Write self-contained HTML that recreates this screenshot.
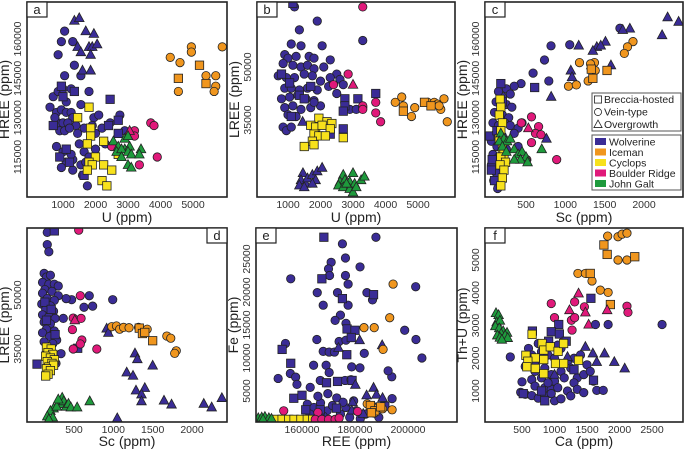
<!DOCTYPE html>
<html><head><meta charset="utf-8">
<style>
html,body{margin:0;padding:0;background:#fff;}
svg{display:block;font-family:"Liberation Sans",sans-serif;}
</style></head>
<body>
<svg id="fig" width="685" height="451" viewBox="0 0 685 451"></svg>
<script>
// ---------- DATA (value-space) : [x, y, group, shape] ----------
const groupsList = ["W","I","C","B","G"];
const groupNames = ["Wolverine","Iceman","Cyclops","Boulder Ridge","John Galt"];
const groupColors = ["#3a2c96","#f0961e","#f7e11c","#e0197a","#1e9a3c"];

const ptsA = [
[1050,163000,"W","o"],[950,159000,"W","o"],[1300,159000,"W","o"],[850,154000,"W","o"],[1350,150000,"W","o"],[1050,146000,"W","o"],[700,138000,"W","o"],[850,140000,"W","o"],[1000,141000,"W","o"],[1250,141000,"W","o"],[1550,146000,"W","o"],[1800,140000,"W","o"],[600,134000,"W","o"],[800,132000,"W","o"],[950,133000,"W","o"],[1100,132000,"W","o"],[1250,132000,"W","o"],[1550,135000,"W","o"],[1300,130000,"W","o"],[850,128000,"W","o"],[1000,128000,"W","o"],[1150,128000,"W","o"],[1400,127000,"W","o"],[1650,126000,"W","o"],[900,125000,"W","o"],[1050,125000,"W","o"],[1200,126000,"W","o"],[1950,130000,"W","o"],[2100,131000,"W","o"],[2200,126000,"W","o"],[2000,124000,"W","o"],[2450,128000,"W","o"],[2750,131000,"W","o"],[2900,125000,"W","o"],[800,119000,"W","o"],[1000,117000,"W","o"],[1500,120000,"W","o"],[1650,117000,"W","o"],[1800,115000,"W","o"],[2000,118000,"W","o"],[2300,120000,"W","o"],[1100,113000,"W","o"],[1300,114000,"W","o"],[1550,112000,"W","o"],[1700,113000,"W","o"],[1300,110000,"W","o"],[1600,108000,"W","o"],[1750,104000,"W","o"],[950,111000,"W","o"],[1250,116000,"W","o"],[750,130000,"W","o"],[1100,136000,"W","o"],[1450,124000,"W","o"],[1900,127000,"W","o"],
[700,127000,"W","s"],[950,142000,"W","s"],[1000,138000,"W","s"],[1350,140000,"W","s"],[2450,137000,"W","s"],[2700,129000,"W","s"],[2700,124000,"W","s"],[2400,127000,"W","s"],[900,115000,"W","s"],[1200,113000,"W","s"],[1650,108000,"W","s"],[1100,118000,"W","s"],
[1350,167000,"W","t"],[1500,168000,"W","t"],[1700,163000,"W","t"],[1950,162000,"W","t"],[1450,157000,"W","t"],[1800,157000,"W","t"],[1900,157000,"W","t"],[2050,158000,"W","t"],[1550,155000,"W","t"],[1850,154000,"W","t"],[1600,148000,"W","t"],[1850,148000,"W","t"],
[4300,153000,"I","o"],[4600,151000,"I","o"],[4950,157000,"I","o"],[4950,155000,"I","o"],[5400,146000,"I","o"],[5700,146000,"I","o"],[5700,142000,"I","o"],[5650,140000,"I","o"],[4550,140000,"I","o"],[5900,157000,"I","o"],
[4550,145000,"I","s"],[5200,150000,"I","s"],[5400,143000,"I","s"],
[1800,134000,"C","s"],[1450,130000,"C","s"],[1850,126000,"C","s"],[1850,123000,"C","s"],[1750,120000,"C","s"],[2250,121000,"C","s"],[2000,115000,"C","s"],[1800,113000,"C","s"],[1900,112000,"C","s"],[1750,110000,"C","s"],[2250,112000,"C","s"],[2500,110000,"C","s"],[2200,106000,"C","s"],[2350,104000,"C","s"],[2700,116000,"C","s"],
[3700,128000,"B","o"],[3800,127000,"B","o"],[3200,125000,"B","o"],[3200,123000,"B","o"],[2500,119000,"B","o"],[3350,112000,"B","o"],[3900,115000,"B","o"],[3050,125000,"B","t"],
[2550,121000,"G","t"],[2700,119000,"G","t"],[2900,118000,"G","t"],[3050,119000,"G","t"],[2650,117000,"G","t"],[2800,118000,"G","t"],[3000,117000,"G","t"],[3100,116000,"G","t"],[3400,118000,"G","t"],[2800,115000,"G","t"],[3350,116000,"G","t"],[3000,112000,"G","t"],[3100,111000,"G","t"],[2900,122000,"G","t"],[3000,123000,"G","t"]
];

const ptsB = [
[1200,67000,"W","o"],[1900,63000,"W","o"],[1350,60500,"W","o"],[3300,57500,"W","o"],[1100,56500,"W","o"],[1400,56000,"W","o"],[2050,56000,"W","o"],[900,53500,"W","o"],[1000,52500,"W","o"],[1250,53000,"W","o"],[1650,53000,"W","o"],[1800,52500,"W","o"],[2300,52000,"W","o"],[850,51000,"W","o"],[1150,50500,"W","o"],[1400,50000,"W","o"],[1600,50500,"W","o"],[1800,49500,"W","o"],[2100,50000,"W","o"],[2500,48000,"W","o"],[700,47500,"W","o"],[950,47000,"W","o"],[1200,47000,"W","o"],[1500,48000,"W","o"],[1750,47500,"W","o"],[2000,46000,"W","o"],[2300,47000,"W","o"],[2600,46500,"W","o"],[2700,45000,"W","o"],[2250,44500,"W","o"],[900,44000,"W","o"],[1100,44000,"W","o"],[1350,43500,"W","o"],[1600,44000,"W","o"],[1900,43500,"W","o"],[2500,42500,"W","o"],[800,41000,"W","o"],[1050,41500,"W","o"],[1300,42000,"W","o"],[1550,41000,"W","o"],[1800,40500,"W","o"],[900,38500,"W","o"],[1150,39000,"W","o"],[1400,38000,"W","o"],[1700,38500,"W","o"],[1000,36500,"W","o"],[1250,36000,"W","o"],[2000,39000,"W","o"],[2900,38000,"W","o"],[3100,38000,"W","o"],[3300,38500,"W","o"],[850,33000,"W","o"],[950,32000,"W","o"],[1100,33000,"W","o"],[1800,40000,"W","o"],
[1150,68000,"W","s"],[800,48000,"W","s"],[1050,45500,"W","s"],[1350,42000,"W","s"],[1500,41000,"W","s"],[2750,41000,"W","s"],[3150,41000,"W","s"],[2750,39000,"W","s"],[3700,42500,"W","s"],[2700,37500,"W","s"],[1100,36000,"W","s"],[2700,32500,"W","s"],[2300,31000,"W","s"],[1700,44500,"W","s"],
[1450,34500,"W","t"],[1460,20000,"W","t"],[1400,18000,"W","t"],[1550,17000,"W","t"],[1600,18500,"W","t"],[1750,19500,"W","t"],[1900,20500,"W","t"],[2050,21500,"W","t"],[1850,18000,"W","t"],[1350,16500,"W","t"],[1500,16000,"W","t"],[1750,17000,"W","t"],
[2700,19500,"G","t"],[3000,20000,"G","t"],[2600,17500,"G","t"],[2750,18000,"G","t"],[2900,17500,"G","t"],[3050,17000,"G","t"],[3250,18000,"G","t"],[3350,19000,"G","t"],[2550,16500,"G","t"],[2700,16000,"G","t"],[2900,15500,"G","t"],[3000,14500,"G","t"],[3100,16000,"G","t"],[2800,17000,"G","t"],
[1950,35500,"C","s"],[2200,34500,"C","s"],[2350,34000,"C","s"],[1700,33500,"C","s"],[1850,33000,"C","s"],[2050,33500,"C","s"],[2300,32500,"C","s"],[1800,31000,"C","s"],[1950,30500,"C","s"],[2150,30500,"C","s"],[1750,29000,"C","s"],[2700,30000,"C","s"],[1500,27500,"C","s"],[1800,28000,"C","s"],
[3300,67000,"B","o"],[2850,48000,"B","o"],[2400,45000,"B","o"],[3700,40000,"B","o"],[3300,39000,"B","o"],[3300,38000,"B","o"],[3700,37000,"B","o"],[3850,34500,"B","o"],[3000,45000,"B","t"],
[4500,41500,"I","o"],[4300,40000,"I","o"],[4550,39000,"I","o"],[4900,38500,"I","o"],[4800,36000,"I","o"],[5300,40000,"I","o"],[5500,40000,"I","o"],[5600,39500,"I","o"],[5700,38000,"I","o"],[5800,41000,"I","o"],[5900,34500,"I","o"],[5650,39000,"I","o"],
[5200,40000,"I","s"],[4550,37500,"I","s"],[5400,39000,"I","s"]
];

const ptsC = [
[1694,164100,"W","o"],[818,157400,"W","o"],[1056,157800,"W","o"],[735,152000,"W","o"],[590,147000,"W","o"],[790,144000,"W","o"],[437,143000,"W","o"],[350,142000,"W","o"],[250,141000,"W","o"],[300,139000,"W","o"],[200,138000,"W","o"],[150,140000,"W","o"],[120,136000,"W","o"],[250,135000,"W","o"],[320,134000,"W","o"],[100,132000,"W","o"],[200,131000,"W","o"],[280,130000,"W","o"],[80,128000,"W","o"],[150,127000,"W","o"],[230,128000,"W","o"],[300,127000,"W","o"],[120,124000,"W","o"],[200,123000,"W","o"],[60,121000,"W","o"],[130,119000,"W","o"],[80,116000,"W","o"],[150,115000,"W","o"],[60,112000,"W","o"],[120,109000,"W","o"],[90,106000,"W","o"],[140,103000,"W","o"],[400,126000,"W","o"],[450,128000,"W","o"],[400,119000,"W","o"],[350,124000,"W","o"],[250,118000,"W","o"],[180,113000,"W","o"],
[610,141500,"W","s"],[180,143000,"W","s"],[40,123000,"W","s"],[60,110000,"W","s"],[100,106000,"W","s"],[200,136000,"W","s"],[130,125000,"W","s"],[70,114000,"W","s"],
[2300,168300,"W","t"],[2440,166600,"W","t"],[2230,161500,"W","t"],[1820,164000,"W","t"],[1730,163500,"W","t"],[1170,157500,"W","t"],[1510,159000,"W","t"],[1400,157000,"W","t"],[1350,155500,"W","t"],[1450,157500,"W","t"],[1580,150000,"W","t"],[1330,150000,"W","t"],[1070,148000,"W","t"],[1085,145500,"W","t"],[820,138000,"W","t"],[760,122000,"W","t"],
[1860,159000,"I","o"],[1790,157000,"I","o"],[1750,154500,"I","o"],[1180,151000,"I","o"],[1370,151000,"I","o"],[1320,150500,"I","o"],[1380,148000,"I","o"],[1290,144000,"I","o"],[1040,142000,"I","o"],[1140,142500,"I","o"],
[1330,148500,"I","s"],[1350,145000,"I","s"],[1530,148000,"I","s"],
[170,137000,"C","s"],[180,134000,"C","s"],[160,131000,"C","s"],[200,128000,"C","s"],[180,125000,"C","s"],[160,122000,"C","s"],[200,118000,"C","s"],[220,116000,"C","s"],[180,115000,"C","s"],[240,113000,"C","s"],[170,112000,"C","s"],[220,110000,"C","s"],[200,107000,"C","s"],[180,104000,"C","s"],
[570,130300,"B","o"],[440,128000,"B","o"],[660,126600,"B","o"],[620,124000,"B","o"],[690,123500,"B","o"],[570,120500,"B","o"],[510,114000,"B","o"],[890,114000,"B","o"],[530,126000,"B","t"],
[180,124000,"G","t"],[220,122000,"G","t"],[160,121000,"G","t"],[260,121000,"G","t"],[300,122000,"G","t"],[200,119000,"G","t"],[350,118000,"G","t"],[400,116000,"G","t"],[450,117000,"G","t"],[500,115000,"G","t"],[430,114000,"G","t"],[350,114000,"G","t"],[520,113000,"G","t"],[700,118000,"G","t"],[250,117000,"G","t"]
];

const ptsD = [
[160,67400,"W","o"],[160,64000,"W","o"],[180,62000,"W","o"],[120,56000,"W","o"],[150,55000,"W","o"],[200,55500,"W","o"],[100,53500,"W","o"],[180,53000,"W","o"],[250,53000,"W","o"],[300,52500,"W","o"],[130,51500,"W","o"],[220,51000,"W","o"],[300,49800,"W","o"],[100,50500,"W","o"],[160,49000,"W","o"],[250,48500,"W","o"],[90,47500,"W","o"],[200,47000,"W","o"],[140,46000,"W","o"],[240,45500,"W","o"],[100,44500,"W","o"],[180,44000,"W","o"],[260,43500,"W","o"],[120,42500,"W","o"],[200,42000,"W","o"],[150,40500,"W","o"],[250,40000,"W","o"],[100,39500,"W","o"],[190,38500,"W","o"],[280,37500,"W","o"],[120,37000,"W","o"],[230,36500,"W","o"],[694,49800,"W","o"],[992,48700,"W","o"],[470,48700,"W","o"],[627,46600,"W","o"],[737,46900,"W","o"],[364,43500,"W","o"],[335,33700,"W","o"],[271,31000,"W","o"],[400,49000,"W","o"],
[250,67800,"W","s"],[547,35200,"W","s"],[30,30800,"W","s"],[130,48000,"W","s"],[210,46000,"W","s"],[150,43000,"W","s"],[260,39000,"W","s"],
[915,40700,"W","t"],[937,39500,"W","t"],[1275,33800,"W","t"],[1305,32200,"W","t"],[1500,30400,"W","t"],[1170,28500,"W","t"],[1250,27600,"W","t"],[1288,23500,"W","t"],[1400,24200,"W","t"],[1358,22400,"W","t"],[1358,20500,"W","t"],[1644,20700,"W","t"],[1740,19600,"W","t"],[2150,19800,"W","t"],[2250,18800,"W","t"],[2380,21400,"W","t"],[1050,15800,"W","t"],
[980,41200,"I","o"],[1040,41400,"I","o"],[1080,40500,"I","o"],[1130,41000,"I","o"],[1200,40900,"I","o"],[1320,41000,"I","o"],[1370,40000,"I","o"],[1430,40500,"I","o"],[1680,38600,"I","o"],[1730,38000,"I","o"],[1800,34500,"I","o"],[1780,33800,"I","o"],
[1330,40800,"I","s"],[1370,39300,"I","s"],[1500,37300,"I","s"],[1400,39600,"I","s"],
[560,68000,"B","o"],[580,49800,"B","o"],[590,43500,"B","o"],[490,43600,"B","o"],[480,40400,"B","o"],[600,37500,"B","o"],[580,36400,"B","o"],[490,35000,"B","o"],[790,35000,"B","o"],[510,43000,"B","t"],
[150,35500,"C","s"],[210,35000,"C","s"],[170,34000,"C","s"],[230,33500,"C","s"],[140,33000,"C","s"],[200,32500,"C","s"],[250,32000,"C","s"],[160,31500,"C","s"],[220,31000,"C","s"],[180,30000,"C","s"],[240,30500,"C","s"],[150,29500,"C","s"],[200,29000,"C","s"],[170,28000,"C","s"],[140,27500,"C","s"],
[350,21500,"G","t"],[330,19700,"G","t"],[370,20500,"G","t"],[400,19000,"G","t"],[430,19800,"G","t"],[460,18800,"G","t"],[540,18800,"G","t"],[700,20500,"G","t"],[240,18500,"G","t"],[200,17800,"G","t"],[230,16000,"G","t"],[160,16300,"G","t"],[180,15500,"G","t"],[280,19000,"G","t"],[300,21000,"G","t"]
];

const ptsE = [
[187900,28300,"W","o"],[175250,27300,"W","o"],[176400,25150,"W","o"],[171000,24500,"W","o"],[181900,23800,"W","o"],[170000,23500,"W","o"],[176400,22500,"W","o"],[170400,22500,"W","o"],[155750,22000,"W","o"],[177400,21200,"W","o"],[202900,20800,"W","o"],[165750,19900,"W","o"],[173400,19900,"W","o"],[184500,19900,"W","o"],[168000,18000,"W","o"],[177400,18000,"W","o"],[186600,18800,"W","o"],[174500,16500,"W","o"],[176600,15250,"W","o"],[172500,15700,"W","o"],[198750,14200,"W","o"],[203000,12800,"W","o"],[165600,12800,"W","o"],[174000,12500,"W","o"],[176600,12700,"W","o"],[205250,10000,"W","o"],[153750,12200,"W","o"],[168000,11000,"W","o"],[170250,10900,"W","o"],[172250,10900,"W","o"],[183500,10700,"W","o"],[164375,8900,"W","o"],[169100,8900,"W","o"],[178750,8650,"W","o"],[181875,8500,"W","o"],[155600,7650,"W","o"],[157600,7100,"W","o"],[151000,6900,"W","o"],[158100,6000,"W","o"],[170250,7800,"W","o"],[176250,6600,"W","o"],[178500,6700,"W","o"],[166900,6600,"W","o"],[163100,5550,"W","o"],[169750,4600,"W","o"],[173100,3950,"W","o"],[194000,3850,"W","o"],[193875,7150,"W","o"],[192500,8050,"W","o"],
[162000,3000,"W","o"],[164500,2500,"W","o"],[167000,3200,"W","o"],[169500,2000,"W","o"],[171500,2800,"W","o"],[174500,1500,"W","o"],[176500,2500,"W","o"],[178000,1000,"W","o"],[180500,2000,"W","o"],[182000,800,"W","o"],[184000,1500,"W","o"],[168000,1200,"W","o"],[163000,1500,"W","o"],[175500,3300,"W","o"],[189000,1000,"W","o"],[179500,3500,"W","o"],[166000,4200,"W","o"],
[168250,28300,"W","s"],[167500,22000,"W","s"],[175250,19000,"W","s"],[187000,19600,"W","s"],[177000,14400,"W","s"],[180000,14200,"W","s"],[178600,13100,"W","s"],[152500,11300,"W","s"],[155750,9200,"W","s"],[176900,10500,"W","s"],[156900,3900,"W","s"],[160000,4350,"W","s"],[169250,6250,"W","s"],[173400,6450,"W","s"],[178900,6600,"W","s"],[161400,2150,"W","s"],[166900,2150,"W","s"],[173000,2400,"W","s"],[186250,2550,"W","s"],[191250,2700,"W","s"],
[181750,12700,"W","t"],[173750,11550,"W","t"],[190250,11950,"W","t"],[180125,5950,"W","t"],[179100,3300,"W","t"],[187000,5500,"W","t"],[184375,4350,"W","t"],[188100,4450,"W","t"],[190400,3950,"W","t"],[178750,2050,"W","t"],[183100,1550,"W","t"],
[194375,21200,"I","o"],[193100,16100,"I","o"],[183400,14600,"I","o"],[187250,14600,"I","o"],[190600,11300,"I","o"],[194000,2150,"I","o"],[184600,3050,"I","o"],[188250,2400,"I","o"],[190400,2300,"I","o"],[187250,1650,"I","o"],
[185800,2800,"I","s"],[187500,2000,"I","s"],[189700,2600,"I","s"],[186200,1700,"I","s"],
[150600,700,"C","s"],[152500,700,"C","s"],[155000,700,"C","s"],[157000,700,"C","s"],[159600,700,"C","s"],[162000,700,"C","s"],[164000,700,"C","s"],[166800,700,"C","s"],
[153100,2000,"B","o"],[166000,1750,"B","o"],[181000,1900,"B","o"],[165000,700,"B","o"],[167500,700,"B","o"],[170000,700,"B","o"],[172500,700,"B","o"],[174000,900,"B","o"],
[143500,900,"G","t"],[144800,1000,"G","t"],[146000,1100,"G","t"],[147500,900,"G","t"],[145300,700,"G","t"],[148500,800,"G","t"]
];

const ptsF = [
[1818,5730,"I","o"],[1977,5710,"I","o"],[2040,5790,"I","o"],[2115,5820,"I","o"],[1977,5000,"I","o"],[2115,5000,"I","o"],[1360,4590,"I","o"],[1475,4590,"I","o"],[1577,4360,"I","o"],[1705,4080,"I","o"],[1825,4010,"I","o"],
[1760,5460,"I","s"],[1810,5170,"I","s"],[2235,5100,"I","s"],[1550,4590,"I","s"],[1860,3640,"I","s"],
[950,3670,"B","o"],[1310,3720,"B","o"],[1460,3570,"B","o"],[1000,3240,"B","o"],[1260,3160,"B","o"],[1310,3240,"B","o"],[1270,2860,"B","o"],[2115,3590,"B","o"],[2130,3400,"B","o"],[1140,2520,"B","o"],
[1370,3980,"B","t"],[1230,3470,"B","t"],[1475,3400,"B","t"],[1525,3030,"B","t"],[1810,3470,"B","t"],
[100,3380,"G","t"],[140,3320,"G","t"],[110,3100,"G","t"],[160,3150,"G","t"],[90,2980,"G","t"],[150,2920,"G","t"],[210,2830,"G","t"],[270,2780,"G","t"],[180,2750,"G","t"],[120,2700,"G","t"],[160,2630,"G","t"],[240,2700,"G","t"],[280,2620,"G","t"],[190,2570,"G","t"],
[1630,3030,"W","o"],[1825,3030,"W","o"],[2655,3030,"W","o"],[320,2040,"W","o"],[600,2300,"W","o"],[650,2100,"W","o"],[700,1900,"W","o"],[800,2200,"W","o"],[900,2100,"W","o"],[1000,2000,"W","o"],[1100,2300,"W","o"],[1200,1900,"W","o"],[1300,2000,"W","o"],[1400,2100,"W","o"],[1500,1800,"W","o"],[550,1750,"W","o"],[700,1600,"W","o"],[850,1700,"W","o"],[950,1500,"W","o"],[1100,1600,"W","o"],[1250,1700,"W","o"],[1350,1400,"W","o"],[1450,1500,"W","o"],[1550,1600,"W","o"],[650,1350,"W","o"],[800,1400,"W","o"],[1000,1300,"W","o"],[1150,1400,"W","o"],[1300,1250,"W","o"],[500,1280,"W","o"],[700,1150,"W","o"],[850,1100,"W","o"],[950,1050,"W","o"],[1050,1100,"W","o"],[1200,1000,"W","o"],[1350,1050,"W","o"],[1650,1020,"W","o"],[1750,1020,"W","o"],[1450,950,"W","o"],[480,960,"W","o"],[550,900,"W","o"],[650,860,"W","o"],[750,780,"W","o"],[850,850,"W","o"],[1000,700,"W","o"],[1100,760,"W","o"],[1250,850,"W","o"],[950,920,"W","o"],[900,1250,"W","o"],[1600,1300,"W","o"],[750,2450,"W","o"],[1050,2400,"W","o"],
[1560,3830,"W","s"],[1065,3030,"W","s"],[950,2810,"W","s"],[1075,2740,"W","s"],[660,2830,"W","s"],[910,2520,"W","s"],[1180,2520,"W","s"],[1600,1330,"W","s"],[850,700,"W","s"],[520,920,"W","s"],[1300,1650,"W","s"],[800,1000,"W","s"],
[1475,2350,"W","t"],[1590,2150,"W","t"],[1770,2150,"W","t"],[1920,1890,"W","t"],[2080,1690,"W","t"],[1650,1890,"W","t"],[1200,2040,"W","t"],[1000,1500,"W","t"],
[655,2730,"C","s"],[810,2450,"C","s"],[835,2250,"C","s"],[935,2350,"C","s"],[1055,2210,"C","s"],[1140,2450,"C","s"],[560,2090,"C","s"],[705,2010,"C","s"],[590,1910,"C","s"],[835,1960,"C","s"],[575,1740,"C","s"],[705,1690,"C","s"],[1015,1840,"C","s"],[1140,1840,"C","s"],[1370,1940,"C","s"],[835,1530,"C","s"]
];

const ticksAx = [1000,2000,3000,4000,5000];
const ticksAy = [115000,130000,145000,160000];
const ticksBy = [35000,50000];
const ticksCx = [500,1000,1500,2000];
const ticksDx = [500,1000,1500,2000];
const ticksEx = [160000,180000,200000];
const ticksEy = [5000,10000,15000,20000,25000];
const ticksFx = [500,1000,1500,2000,2500];
const ticksFy = [1000,2000,3000,4000,5000];

// ---------- RENDER ----------
const NS="http://www.w3.org/2000/svg";
const svg=document.getElementById('fig');
function mk(tag,attrs,parent){const e=document.createElementNS(NS,tag);for(const k in attrs)e.setAttribute(k,attrs[k]);(parent||svg).appendChild(e);return e;}
function lin(v0,p0,v1,p1){return v=>p0+(v-v0)*(p1-p0)/(v1-v0);}

const panels=[
 {id:"a",pts:ptsA,box:[27,2,227,197],xs:lin(1000,63,5000,193),ys:lin(160000,39,115000,157),xt:ticksAx,yt:ticksAy,xl:"U (ppm)",yl:"HREE (ppm)",lr:"left",tk:11,tl:25},
 {id:"b",pts:ptsB,box:[257,2,455,197],xs:lin(1000,288,5000,418),ys:lin(50000,67,35000,120),xt:ticksAx,yt:ticksBy,xl:"U (ppm)",yl:"LREE (ppm)",lr:"left",tk:11,tl:25},
 {id:"c",pts:ptsC,box:[485,2,683,197],xs:lin(500,526,2000,644),ys:lin(160000,39,115000,157),xt:ticksCx,yt:ticksAy,xl:"Sc (ppm)",yl:"HREE (ppm)",lr:"left",tk:11,tl:25},
 {id:"d",pts:ptsD,box:[27,228,227,422],xs:lin(500,74,2000,192),ys:lin(50000,295,35000,349),xt:ticksDx,yt:ticksBy,xl:"Sc (ppm)",yl:"LREE (ppm)",lr:"right",tk:11,tl:24},
 {id:"e",pts:ptsE,box:[256,228,457,422],xs:lin(160000,302,200000,408),ys:lin(25000,259,5000,391),xt:ticksEx,yt:ticksEy,xl:"REE (ppm)",yl:"Fe (ppm)",lr:"left",tk:11,tl:24},
 {id:"f",pts:ptsF,box:[485,228,683,422],xs:lin(500,522,2500,652),ys:lin(5000,260,1000,391),xt:ticksFx,yt:ticksFy,xl:"Ca (ppm)",yl:"Th+U (ppm)",lr:"left",tk:11,tl:24}
];

function marker(g,shape,x,y,color,sc){
  const k=sc||1;
  let e;
  if(shape==="o") e=mk('circle',{cx:x,cy:y,r:4.2*k,fill:color,stroke:"#222","stroke-width":0.8},g);
  else if(shape==="s") e=mk('rect',{x:x-4.2*k,y:y-4.2*k,width:8.4*k,height:8.4*k,fill:color,stroke:"#222","stroke-width":0.8},g);
  else e=mk('polygon',{points:`${x},${y-5.2*k} ${x+4.8*k},${y+3.6*k} ${x-4.8*k},${y+3.6*k}`,fill:color,stroke:"#222","stroke-width":0.8},g);
  return e;
}

panels.forEach(p=>{
  const [l,t,r,b]=p.box;
  const g=mk('g',{});
  
  
  const cp=mk('clipPath',{id:'clip'+p.id},g);
  mk('rect',{x:l,y:t,width:r-l,height:b-t},cp);
  const pg=mk('g',{'clip-path':`url(#clip${p.id})`},g);
  
  
  p.pts.forEach(d=>{
    const ci=groupsList.indexOf(d[2]);
    const m=marker(pg,d[3],p.xs(d[0]),p.ys(d[1]),groupColors[ci]);
    
    
  });
  const frame=mk('rect',{x:l,y:t,width:r-l,height:b-t,fill:"none",stroke:"#222","stroke-width":1.6},g);
  
  
  p.xt.forEach(v=>{
    const x=p.xs(v);
    const tx=mk('text',{x:x,y:b+p.tk,'font-size':10.5,'text-anchor':'middle',fill:"#333"},g);
    tx.textContent=v;
    
    
  });
  p.yt.forEach(v=>{
    const y=p.ys(v);
    const tx=mk('text',{x:l-6,y:y,'font-size':10.5,'text-anchor':'middle',fill:"#333",transform:`rotate(-90 ${l-6} ${y})`},g);
    tx.textContent=v;
    
    
  });
  const xt=mk('text',{x:(l+r)/2,y:b+p.tl,'font-size':14,'text-anchor':'middle',fill:"#222"},g);
  xt.textContent=p.xl;
  
  
  const yx=l-18, yy=(t+b)/2;
  const yt=mk('text',{x:yx,y:yy,'font-size':14,'text-anchor':'middle',fill:"#222",transform:`rotate(-90 ${yx} ${yy})`},g);
  yt.textContent=p.yl;
  
  
  const lx=p.lr==="left"?l:r-20;
  const lb=mk('rect',{x:lx,y:t,width:20,height:15,fill:"#fff",stroke:"#222","stroke-width":1.2},g);
  
  
  const lt=mk('text',{x:lx+10,y:t+12,'font-size':13,'text-anchor':'middle',fill:"#222"},g);
  lt.textContent=p.id;
  
  
});

// legend in panel c
const lg=mk('g',{});


const lb1=mk('rect',{x:592,y:93,width:89,height:38,fill:"#fff",stroke:"#555","stroke-width":1},lg);


const shapeLabels=[["s","Breccia-hosted"],["o","Vein-type"],["t","Overgrowth"]];
shapeLabels.forEach((s,i)=>{
  const y=99+i*12.5;
  const m=marker(lg,s[0],598,y+0.5,"#fff",0.85);
  
  
  const tx=mk('text',{x:604,y:y+4,'font-size':10.5,fill:"#222"},lg);
  tx.textContent=s[1];
  
  
});
const lb2=mk('rect',{x:592,y:135,width:89,height:55,fill:"#fff",stroke:"#555","stroke-width":1},lg);


groupNames.forEach((n,i)=>{
  const y=142+i*10.5;
  const sw=mk('rect',{x:595,y:y-4,width:11,height:7,fill:groupColors[i]},lg);
  
  
  const tx=mk('text',{x:609,y:y+3.5,'font-size':10.5,fill:"#222"},lg);
  tx.textContent=n;
  
  
});
</script>
</body></html>
